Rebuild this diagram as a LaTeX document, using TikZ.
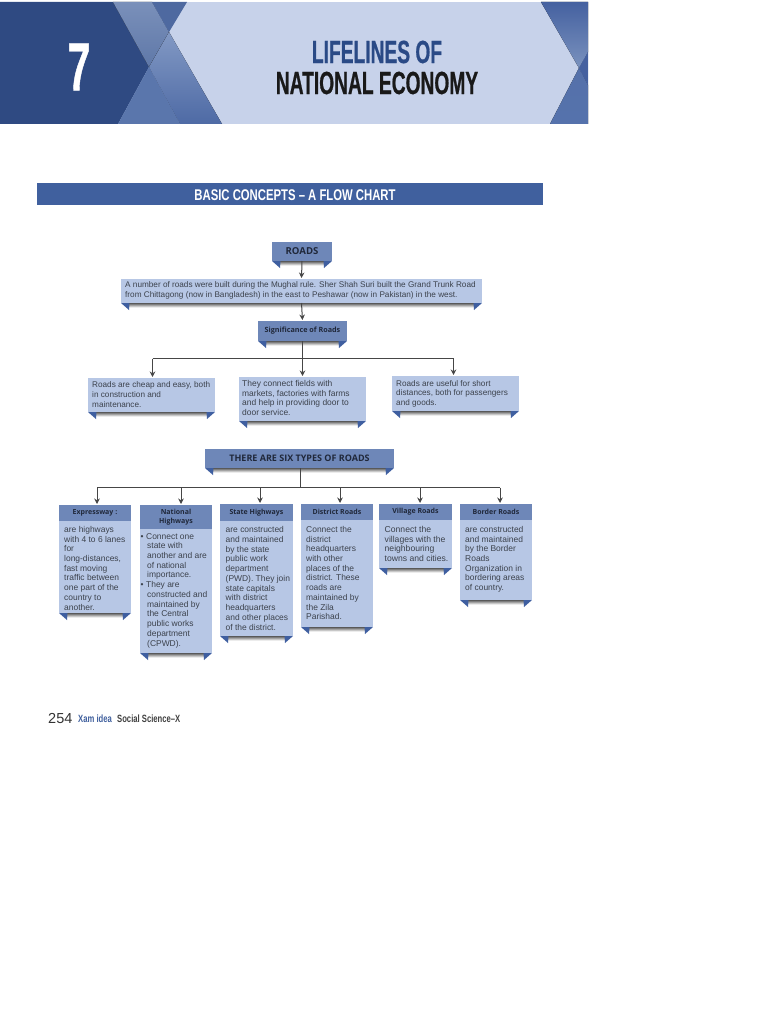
\documentclass[tikz,border=0pt]{standalone}
\usepackage{fontspec}
\usetikzlibrary{arrows.meta}
\setmainfont{Liberation Sans}
\newfontfamily\headfont{Open Sans}
\newfontfamily\titlefont[FakeStretch=0.6,FakeBold=0.6]{Liberation Sans Bold}
\newfontfamily\barfont[FakeStretch=0.73]{Liberation Sans Bold}
\definecolor{navy}{HTML}{2F4A82}
\definecolor{bannerlight}{HTML}{C7D2EA}
\definecolor{barblue}{HTML}{40609E}
\definecolor{boxfill}{HTML}{B7C7E5}
\definecolor{headfill}{HTML}{6E87B8}
\definecolor{tabblue}{HTML}{3F5FA0}
\definecolor{inktext}{HTML}{3C424C}
\definecolor{headink}{HTML}{20283A}
\definecolor{linkgrey}{HTML}{464646}
\definecolor{HTMLa}{HTML}{5F78A8}
\definecolor{HTMLb}{HTML}{7A90BA}
\definecolor{HTMLc}{HTML}{4E69A0}
\definecolor{HTMLd}{HTML}{8299C4}
\definecolor{HTMLe}{HTML}{4E6AA5}
\definecolor{HTMLf}{HTML}{5A76AC}
\definecolor{HTMLg}{HTML}{4561A0}
\definecolor{HTMLh}{HTML}{7A92BE}
\definecolor{HTMLi}{HTML}{5571AA}
\definecolor{HTMLj}{HTML}{5572AC}
\definecolor{HTMLk}{HTML}{2A4A86}
\tikzset{
  x=1pt,y=-1pt,
  boxbase/.style={fill=boxfill,draw=none,inner sep=0pt,outer sep=0pt,anchor=north west},
  headbox/.style={boxbase,fill=headfill,text=headink,font=\headfont\bfseries,align=center},
  bodytext/.style={anchor=north west,inner sep=0pt,align=left,text=inktext,font=\fontsize{8.2}{9.7}\selectfont},
  typetext/.style={bodytext,font=\fontsize{8.45}{9.72}\selectfont},
  link/.style={draw=linkgrey,line width=1pt},
  arrowlink/.style={link,-{Stealth[length=5.5pt,width=5.5pt]},shorten >=1pt},
}
% #1 style, #2 name, #3 x1, #4 y1, #5 x2, #6 y2, #7 text
\newcommand{\tabbox}[7][]{%
  \pgfmathsetmacro\boxw{#5-#3}\pgfmathsetmacro\boxh{#6-#4}%
  \fill[top color=black!65,bottom color=white] (#3+7,#6) rectangle (#5-7,#6+4.5);
  \node[boxbase,minimum width=\boxw pt,minimum height=\boxh pt,#1] (#2) at (#3,#4) {#7};
  \fill[tabblue] (#3,#6) -- (#3+8.5,#6) -- (#3+8,#6+7) -- cycle;
  \fill[tabblue] (#5,#6) -- (#5-8.5,#6) -- (#5-8,#6+7) -- cycle;
}
% #1 name, #2 x1, #3 y1, #4 x2, #5 y head bottom, #6 y2, #7 head text
\newcommand{\typebox}[7]{%
  \tabbox{#1body}{#2}{#3}{#4}{#6}{}%
  \pgfmathsetmacro\boxw{#4-#2}\pgfmathsetmacro\boxh{#5-#3}%
  \node[headbox,minimum width=\boxw pt,minimum height=\boxh pt,font=\headfont\bfseries\fontsize{7}{9.6}\selectfont] (#1) at (#2,#3) {#7};
}
\begin{document}
\begin{tikzpicture}
\useasboundingbox (0,0) rectangle (768,1024);
\fill[white] (0,0) rectangle (768,1024);
% banner
\fill[bannerlight] (0,2) rectangle (588,124);
\fill[navy] (0,2) -- (113,2) -- (149,67) -- (118,124) -- (0,124) -- cycle;
\fill[top color=HTMLb,bottom color=HTMLa] (113,2) -- (152,2) -- (169,32) -- (149,67) -- cycle;
\fill[HTMLc] (152,2) -- (187,2) -- (169,32) -- cycle;
\fill[top color=HTMLd,bottom color=HTMLe] (169,32) -- (149,67) -- (180,124) -- (222,124) -- cycle;
\fill[HTMLf] (149,67) -- (118,124) -- (180,124) -- cycle;
\fill[top color=HTMLg,bottom color=HTMLh] (541,2) -- (588,2) -- (588,52) -- (579,68) -- cycle;
\fill[top color=HTMLi,bottom color=HTMLj] (579,68) -- (588,85) -- (588,124) -- (550,124) -- cycle;
\fill[HTMLg] (579,68) -- (588,52) -- (588,85) -- cycle;
\node[text=white,font=\titlefont\fontsize{68}{68}\selectfont,inner sep=0pt] (chapter) at (79,67) {7};
\node[text=HTMLk,font=\titlefont\fontsize{32}{32}\selectfont,inner sep=0pt] (title1) at (377,52) {LIFELINES OF};
\node[text=black!90,font=\titlefont\fontsize{32}{32}\selectfont,inner sep=0pt] (title2) at (377,83) {NATIONAL ECONOMY};
\node[boxbase,fill=barblue,minimum width=506pt,minimum height=22pt,text=white] (bar) at (37,183) {};
\node[text=white,font=\barfont\fontsize{15.5}{15.5}\selectfont,inner sep=0pt] (bartext) at (295,195) {BASIC CONCEPTS – A FLOW CHART};
% top chain
\tabbox[headbox,fill=headfill,font=\headfont\bfseries\fontsize{9.6}{10}\selectfont]{roads}{272}{242}{332}{261}{ROADS}
\tabbox{long}{121}{279}{482}{303}{}
\node[bodytext] (longtext) at (125,281.5) {A number of roads were built during the Mughal rule. Sher Shah Suri built the Grand Trunk Road\\from Chittagong (now in Bangladesh) in the east to Peshawar (now in Pakistan) in the west.};
\tabbox[headbox,font=\headfont\bfseries\fontsize{7.2}{9}\selectfont]{signif}{258}{321}{347}{341}{Significance of Roads}
\tabbox{boxa}{88}{378}{215}{412}{}
\node[bodytext] (boxatext) at (92,381.5) {Roads are cheap and easy, both\\in construction and\\maintenance.};
\tabbox{boxb}{239}{377}{366}{421}{}
\node[bodytext,font=\fontsize{8.45}{9.8}\selectfont] (boxbtext) at (242,380) {They connect fields with\\markets, factories with farms\\and help in providing door to\\door service.};
\tabbox{boxc}{392}{376}{519}{411}{}
\node[bodytext] (boxctext) at (396,380) {Roads are useful for short\\distances, both for passengers\\and goods.};
\tabbox[headbox,font=\headfont\bfseries\fontsize{9}{10}\selectfont]{six}{205}{449}{394}{468}{THERE ARE SIX TYPES OF ROADS}
% six types
\typebox{expr}{59}{505}{131}{521}{613}{Expressway :}
\node[typetext] (exprtext) at (64,526) {are highways\\with 4 to 6 lanes\\for\\long-distances,\\fast moving\\traffic between\\one part of the\\country to\\another.};
\typebox{natl}{140}{505}{212}{529}{653}{National\\Highways}
\node[typetext] (natltext) at (140.5,533) {\textbullet\hspace{2.5pt}Connect one\\\hspace{6.5pt}state with\\\hspace{6.5pt}another and are\\\hspace{6.5pt}of national\\\hspace{6.5pt}importance.\\\textbullet\hspace{2.5pt}They are\\\hspace{6.5pt}constructed and\\\hspace{6.5pt}maintained by\\\hspace{6.5pt}the Central\\\hspace{6.5pt}public works\\\hspace{6.5pt}department\\\hspace{6.5pt}(CPWD).};
\typebox{state}{220}{504}{293}{521}{636}{State Highways}
\node[typetext] (statetext) at (225.5,526.5) {are constructed\\and maintained\\by the state\\public work\\department\\(PWD). They join\\state capitals\\with district\\headquarters\\and other places\\of the district.};
\typebox{dist}{301}{504}{373}{520}{627}{District Roads}
\node[typetext] (disttext) at (306,526) {Connect the\\district\\headquarters\\with other\\places of the\\district. These\\roads are\\maintained by\\the Zila\\Parishad.};
\typebox{vill}{379}{504}{452}{520}{568}{Village Roads}
\node[typetext,font=\fontsize{8.6}{9.72}\selectfont] (villtext) at (384.5,526) {Connect the\\villages with the\\neighbouring\\towns and cities.};
\typebox{bord}{460}{504}{532}{520}{600}{Border Roads}
\node[typetext] (bordtext) at (465,526) {are constructed\\and maintained\\by the Border\\Roads\\Organization in\\bordering areas\\of country.};
% connectors
\draw[arrowlink] (roads.south) -- (long.north);
\draw[arrowlink] (long.south) -- (signif.north);
\draw[arrowlink] (signif.south) -- (boxb.north);
\coordinate (busleft) at (152.5,358.5);
\coordinate (busright) at (453.5,358.5);
\draw[link] (busleft) -- (busright);
\draw[arrowlink] (busleft) -- (busleft |- boxa.north);
\draw[arrowlink] (busright) -- (busright |- boxc.north);
\coordinate (bustwo) at (300.5,487.5);
\coordinate (busend) at (97,487.5);
\coordinate (busfar) at (500,487.5);
\draw[link] (bustwo |- six.south) -- (bustwo);
\draw[link] (busend) -- (busfar);
\foreach \t/\d in {expr/2,natl/5,state/3.5,dist/3,vill/4.5,bord/4}{
  \draw[arrowlink] ([xshift=\d pt]\t.north |- bustwo) -- ([xshift=\d pt]\t.north);
}
% footer
\node[anchor=base west,inner sep=0pt,text=black!80,font=\fontsize{14.5}{16}\selectfont] (pageno) at (48,723.5) {254};
\node[anchor=base west,inner sep=0pt,text=barblue,font=\barfont\fontsize{10.5}{10}\selectfont] (brand) at (78,722.5) {Xam idea};
\node[anchor=base west,inner sep=0pt,text=black!75,font=\barfont\fontsize{10.5}{10}\selectfont] (book) at (117,722.5) {Social Science–X};
\end{tikzpicture}
\end{document}
